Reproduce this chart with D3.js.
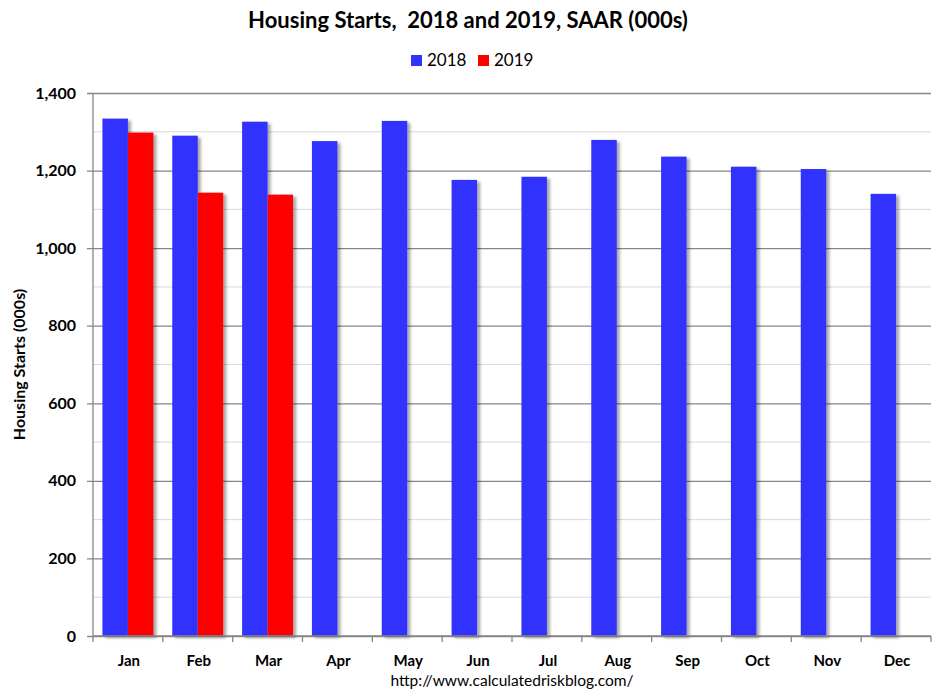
<!DOCTYPE html>
<html>
<head>
<meta charset="utf-8">
<script src="https://cdn.jsdelivr.net/npm/d3@7"></script>
<style>
  body { margin: 0; background: #fff; overflow: hidden; }
  svg { display: block; }
  text { font-family: Lato, "Open Sans", sans-serif; }
</style>
</head>
<body>
<svg id="chart"></svg>
<script>
const months = ['Jan', 'Feb', 'Mar', 'Apr', 'May', 'Jun', 'Jul', 'Aug', 'Sep', 'Oct', 'Nov', 'Dec'];
const starts2018 = [1334, 1290, 1326, 1276, 1328, 1176, 1184, 1279, 1236, 1210, 1204, 1140];
const starts2019 = [1298, 1143, 1138];
const yTicks = [0, 200, 400, 600, 800, 1000, 1200, 1400];
const seriesNames = ['2018', '2019'];
const seriesColors = ['#3333ff', '#ff0000'];

const width = 941;
const height = 697;
const margin = { top: 93, right: 10, bottom: 61, left: 93 };
const innerWidth = 931 - margin.left;
const innerHeight = 636 - margin.top;

const svg = d3.select('#chart').attr('width', width).attr('height', height);

// bar shadow
const filter = svg.append('defs').append('filter')
  .attr('id', 'shadow')
  .attr('x', '-20%').attr('y', '-5%')
  .attr('width', '160%').attr('height', '120%');
filter.append('feDropShadow')
  .attr('dx', 3).attr('dy', 2)
  .attr('stdDeviation', 1.6)
  .attr('flood-color', '#000')
  .attr('flood-opacity', 0.35);

const body = svg.append('g')
  .attr('transform', 'translate(' + margin.left + ',' + margin.top + ')');

const xScale = d3.scaleBand()
  .domain(months)
  .range([0, innerWidth])
  .paddingInner(0.27)
  .paddingOuter(0.135);

const sub = d3.scaleBand()
  .domain(seriesNames)
  .range([0, xScale.bandwidth()]);

const yScale = d3.scaleLinear()
  .domain([0, 1400])
  .range([innerHeight, 0]);

// minor gridlines
body.append('g')
  .selectAll('line')
  .data(d3.range(100, 1400, 200))
  .enter()
  .append('line')
  .attr('x1', 0).attr('x2', innerWidth)
  .attr('y1', d => yScale(d)).attr('y2', d => yScale(d))
  .attr('stroke', '#d9d9d9')
  .attr('stroke-width', 1);

// major gridlines + y axis
const leftAxis = d3.axisLeft(yScale)
  .tickValues(yTicks)
  .tickFormat(d3.format(','))
  .tickSize(-innerWidth);
const yAxisG = body.append('g').call(leftAxis);
yAxisG.select('.domain').remove();
yAxisG.selectAll('.tick line')
  .attr('x1', -6)
  .attr('stroke', '#868686')
  .attr('stroke-width', 1.3);
yAxisG.selectAll('.tick text')
  .attr('x', -17)
  .attr('font-size', '16px')
  .attr('font-weight', 'bold')
  .attr('fill', '#000');
body.append('line')
  .attr('x1', 0).attr('x2', 0)
  .attr('y1', 0).attr('y2', innerHeight)
  .attr('stroke', '#868686')
  .attr('stroke-width', 1.3);

// bars
const series = [starts2018, starts2019];
series.forEach((vals, i) => {
  body.append('g')
    .attr('filter', 'url(#shadow)')
    .selectAll('rect')
    .data(vals)
    .enter()
    .append('rect')
    .attr('x', (d, j) => xScale(months[j]) + sub(seriesNames[i]))
    .attr('y', d => yScale(d))
    .attr('width', sub.bandwidth())
    .attr('height', d => innerHeight - yScale(d))
    .attr('fill', seriesColors[i]);
});

// x axis
const step = xScale.step();
const xAxisG = body.append('g')
  .attr('transform', 'translate(0,' + innerHeight + ')');
xAxisG.append('line')
  .attr('x1', 0).attr('x2', innerWidth)
  .attr('stroke', '#868686')
  .attr('stroke-width', 1.3);
xAxisG.selectAll('.tk')
  .data(d3.range(0, 13))
  .enter()
  .append('line')
  .attr('x1', d => d * step).attr('x2', d => d * step)
  .attr('y1', 0).attr('y2', 6)
  .attr('stroke', '#868686')
  .attr('stroke-width', 1.3);
xAxisG.selectAll('.lbl')
  .data(months)
  .enter()
  .append('text')
  .attr('x', d => xScale(d) + xScale.bandwidth() / 2 + 1)
  .attr('y', 30)
  .attr('text-anchor', 'middle')
  .attr('font-size', '15px')
  .attr('font-weight', 'bold')
  .text(d => d);

// title
svg.append('text')
  .attr('x', 468)
  .attr('y', 28)
  .attr('text-anchor', 'middle')
  .attr('font-size', '22px')
  .attr('font-weight', 'bold')
  .attr('xml:space', 'preserve')
  .text('Housing Starts,  2018 and 2019, SAAR (000s)');

// legend
const legend = svg.append('g').attr('transform', 'translate(411,60)');
seriesNames.forEach((name, i) => {
  const g = legend.append('g').attr('transform', 'translate(' + i * 67 + ',0)');
  g.append('rect')
    .attr('x', 0).attr('y', -5)
    .attr('width', 11).attr('height', 11)
    .attr('fill', seriesColors[i]);
  g.append('text')
    .attr('x', 16).attr('y', 6)
    .attr('font-size', '17px')
    .text(name);
});

// y label
svg.append('text')
  .attr('transform', 'translate(25,' + (margin.top + innerHeight / 2) + ') rotate(-90)')
  .attr('text-anchor', 'middle')
  .attr('font-size', '16px')
  .attr('font-weight', 'bold')
  .text('Housing Starts (000s)');

// source
svg.append('text')
  .attr('x', 512)
  .attr('y', 686)
  .attr('text-anchor', 'middle')
  .attr('font-size', '15.5px')
  .text('http://www.calculatedriskblog.com/');
</script>
</body>
</html>
